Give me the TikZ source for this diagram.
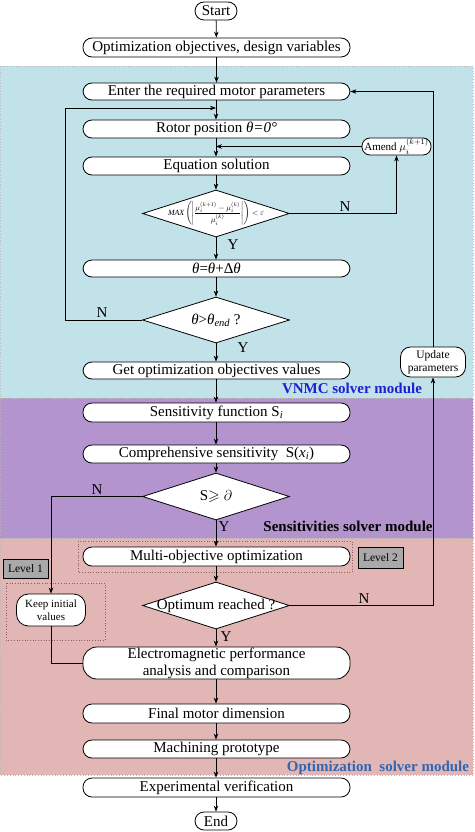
\documentclass[tikz,border=0pt]{standalone}
\usepackage{fontspec}
\usepackage{amsmath,amssymb}
\setmainfont{Liberation Serif}
\usetikzlibrary{arrows.meta,shapes.geometric}
\definecolor{cyanbg}{HTML}{C2E2EA}
\definecolor{purplebg}{HTML}{B394CF}
\definecolor{pinkbg}{HTML}{E2B6B5}
\definecolor{vnmcblue}{HTML}{1F1FD0}
\definecolor{optblue}{HTML}{3366B0}
\definecolor{levelgray}{HTML}{A9A9A9}
\definecolor{dotbrown}{HTML}{8B5F5F}
\tikzset{
  box/.style={draw, fill=white, rounded corners=9pt, minimum width=267pt, minimum height=18pt, inner sep=0pt, line width=0.8pt, font=\fontsize{15}{17}\selectfont, align=center},
  term/.style={box, minimum width=42pt},
  small/.style={draw, fill=white, rounded corners=8pt, inner sep=0pt, line width=0.8pt, align=center},
  dia/.style={draw, fill=white, diamond, minimum width=147pt, minimum height=47pt, inner sep=0pt, line width=0.8pt},
  ttext/.style={font=\fontsize{15}{17}\selectfont},
  conn/.style={line width=0.8pt, -{Stealth[length=6pt,width=4.5pt]}},
  plain/.style={line width=0.8pt},
  lbl/.style={font=\fontsize{15}{17}\selectfont, inner sep=0pt},
  region/.style={draw=gray!55, dotted, line width=0.8pt},
  levelbox/.style={draw, fill=levelgray, line width=0.6pt, font=\fontsize{11.5}{13}\selectfont, inner sep=0pt},
  levelframe/.style={draw=dotbrown, dotted, line width=0.7pt},
  modlabel/.style={font=\fontsize{15}{17}\selectfont\bfseries, inner sep=0pt}
}
\begin{document}
\begin{tikzpicture}[x=1pt,y=-1pt]
\useasboundingbox (0,0) rectangle (474,832);
% regions
\fill[cyanbg] (0,66) rectangle (473,398);
\fill[purplebg] (0,398) rectangle (473,538);
\fill[pinkbg] (0,538) rectangle (473,775);
\draw[region] (0.5,66) rectangle (473,398);
\draw[region] (0.5,398) rectangle (473,538);
\draw[region] (0.5,538) rectangle (473,775);
% level frames
\draw[levelframe] (78,541) rectangle (352,572);
\draw[levelframe] (6,583) rectangle (105,640);
\node[levelbox, minimum width=45pt, minimum height=21pt] (lv2) at (380.5,557.5) {Level 2};
\node[levelbox, minimum width=45pt, minimum height=19pt] (lv1) at (25.5,568.5) {Level 1};
% module labels
\node[modlabel, text=vnmcblue] (m1) at (352,388) {VNMC solver module};
\node[modlabel, text=black] (m2) at (348,526) {Sensitivities solver module};
\node[modlabel, text=optblue] (m3) at (378,768) {Optimization\ \ solver module};
% main nodes
\node[term, minimum height=18pt] (start) at (216,11) {Start};
\node[box, minimum height=19pt] (opt) at (216.5,47.5) {Optimization objectives, design variables};
\node[box, minimum height=17pt] (enter) at (216.5,91.5) {Enter the required motor parameters};
\node[box] (rotor) at (216.5,129) {Rotor position \textit{θ=0°}};
\node[box] (eq) at (216.5,166) {Equation solution};
\node[dia] (d1) at (216,213.5) {};
\node[inner sep=0pt] (d1t) at (d1) {\resizebox{96pt}{!}{$\mathit{MAX}\left(\left|\dfrac{\mu_i^{(k+1)}-\mu_i^{(k)}}{\mu_i^{(k)}}\right|\right)<\varepsilon$}};
\node[box, minimum height=17pt] (theta) at (216.5,268.5) {\textit{θ}=\textit{θ}+Δ\textit{θ}};
\node[dia, minimum height=46pt] (d2) at (216,320) {};
\node[ttext] (d2t) at (d2) {\textit{θ}>\textit{θ}\textsubscript{\textit{end}} ?};
\node[box, minimum height=17pt] (get) at (216.5,370.5) {Get optimization objectives values};
\node[box, minimum height=19pt] (sens) at (216.5,412.5) {Sensitivity function S\textsubscript{\textit{i}}};
\node[box] (comp) at (216.5,454) {Comprehensive sensitivity\ \ S(\textit{x}\textsubscript{\textit{i}})};
\node[dia] (d3) at (216,496.5) {};
\node[ttext] (d3t) at (d3) {S$\geqslant\partial$};
\node[box, minimum height=19pt] (multi) at (216.5,556.5) {Multi-objective optimization};
\node[dia] (d4) at (216,605.5) {};
\node[ttext] (d4t) at (d4) {Optimum reached ?};
\node[box, minimum height=32pt, rounded corners=14pt] (em) at (216.5,663) {Electromagnetic performance\\analysis and comparison};
\node[box, minimum height=19pt] (final) at (216.5,713.5) {Final motor dimension};
\node[box] (mach) at (216.5,749) {Machining prototype};
\node[box, minimum height=19pt] (exp) at (216.5,787.5) {Experimental verification};
\node[term, minimum height=18pt] (end) at (216,821) {End};
% side nodes
\node[small, minimum width=69pt, minimum height=17pt, font=\fontsize{11}{12}\selectfont] (amend) at (396.5,146.5) {Amend $\mu_i^{(k+1)}$};
\node[small, minimum width=65pt, minimum height=30pt, rounded corners=10pt, font=\fontsize{11.5}{13}\selectfont] (upd) at (433,362) {Update\\parameters};
\node[small, minimum width=69pt, minimum height=32pt, rounded corners=12pt, font=\fontsize{11}{13.5}\selectfont] (keep) at (51,610) {Keep initial\\values};
% junction coordinates
\coordinate (j1) at (216,146.5);
\coordinate (j2) at (216,108);
% connectors
\draw[conn] (start) -- (opt);
\draw[conn] (opt) -- (enter);
\draw[conn] (enter.south -| start) -- (rotor.north -| start);
\draw[conn] (rotor.south -| start) -- (eq.north -| start);
\draw[conn] (eq.south -| start) -- (d1.north);
\draw[conn] (d1.south) -- (theta.north -| start);
\draw[conn] (d1.east) -| (amend.south);
\draw[conn] (amend.west) -- (j1);
\draw[conn] (theta.south -| start) -- (d2.north);
\draw[conn] (d2.south) -- (get.north -| start);
\draw[conn] (d2.west) -- (65,320) |- (j2);
\draw[conn] (get.south -| start) -- (sens.north -| start);
\draw[conn] (sens.south -| start) -- (comp.north -| start);
\draw[conn] (comp.south -| start) -- (d3.north);
\draw[conn] (d3.south) -- (multi.north -| start);
\draw[conn] (d3.west) -| (keep.north);
\draw[conn] (multi.south -| start) -- (d4.north);
\draw[conn] (d4.south) -- (em.north -| start);
\draw[conn] (d4.east) -| (upd.south);
\draw[conn] (upd.north) |- (enter.east);
\draw[plain] (keep.south) |- (em.west);
\draw[conn] (em.south -| start) -- (final.north -| start);
\draw[conn] (final.south -| start) -- (mach.north -| start);
\draw[conn] (mach.south -| start) -- (exp.north -| start);
\draw[conn] (exp.south -| start) -- (end);
% branch labels
\node[lbl] (n1) at (345,207) {N};
\node[lbl] (y1) at (233,245) {Y};
\node[lbl] (n2) at (102,313) {N};
\node[lbl] (y2) at (243,348) {Y};
\node[lbl] (n3) at (97,490) {N};
\node[lbl] (y3) at (224,527) {Y};
\node[lbl] (n4) at (364,599) {N};
\node[lbl] (y4) at (226,637) {Y};
\end{tikzpicture}
\end{document}
